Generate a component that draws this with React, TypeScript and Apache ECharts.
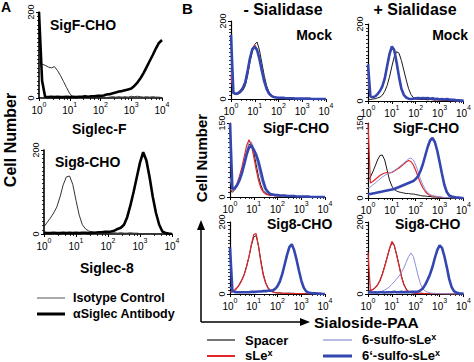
import React, { useEffect, useRef } from 'react';
import * as echarts from 'echarts';

// fluorescence channels (10^0 .. 10^4, 0.1-decade steps)
const channels = [1, 1.26, 1.58, 2, 2.51, 3.16, 3.98, 5.01, 6.31, 7.94, 10, 12.6, 15.8, 20, 25.1, 31.6, 39.8, 50.1, 63.1, 79.4, 100, 126, 158, 200, 251, 316, 398, 501, 631, 794, 1000, 1259, 1585, 1995, 2512, 3162, 3981, 5012, 6310, 7943, 10000];
const xTickLabels = ['0', '1', '2', '3', '4'];

// Panel A
const aSigFIsotype = [82,79,76,72,70,73,64,52,38,24, 10,3,2,1,2,1,2,1,2,1, 2,2,1,2,3,2,3,2,3,2, 4,3,4,3,2,3,2,3,2,2, 1];
const aSigFAntibody = [200,40,3,2,3,2,3,2,2,3, 2,3,2,3,3,4,3,4,4,5, 5,6,8,9,11,13,15,16,18,20, 22,28,36,46,58,72,86,100,115,128, 135];
const aSig8Isotype = [17,28,38,50,64,88,117,136,138,118, 80,45,22,12,7,5,4,3,3,2, 3,2,3,2,3,2,2,3,2,2, 1,1,1,0,0,0,0,0,0,0, 0];
const aSig8Antibody = [3,2,2,3,2,2,3,2,3,2, 3,2,3,3,2,3,3,4,4,5, 5,6,8,12,15,22,40,68,100,135, 170,195,175,135,88,50,22,6,2,1, 0];

// Panel B, Mock, - Sialidase
const mockMinusSpacer = [20,14,12,13,16,22,34,60,95,122, 140,146,125,92,60,34,18,10,6,4, 3,3,2,2,2,2,1,1,1,1, 1,1,0,0,0,0,0,0,0,0, 0];
const mockMinusSLex = [60,15,14,16,22,30,45,75,108,130, 138,128,105,75,46,26,14,8,5,4, 3,3,2,2,2,1,1,1,1,1, 1,0,0,0,0,0,0,0,0,0, 0];
const mockMinus6S = [80,14,13,15,21,29,43,72,105,128, 136,130,108,78,48,27,15,8,5,4, 3,2,2,2,2,1,1,1,1,1, 0,0,0,0,0,0,0,0,0,0, 0];
const mockMinus6pS = [165,16,13,15,20,28,42,72,105,128, 134,125,102,72,45,26,14,8,5,4, 3,3,3,2,2,2,2,1,1,1, 1,1,1,1,0,0,0,0,0,0, 0];
// Mock, + Sialidase
const mockPlusSpacer = [5,4,5,6,8,10,15,25,40,62, 90,115,128,124,105,80,55,32,17,9, 6,5,4,4,4,3,4,3,3,4, 3,3,2,2,2,2,1,1,1,0, 0];
const mockPlusSLex = [70,11,10,12,17,25,37,58,88,118, 138,130,98,60,31,16,9,6,5,5, 5,6,5,6,5,5,4,4,3,3, 3,2,2,2,1,1,1,0,0,0, 0];
const mockPlus6S = [50,10,10,12,17,26,38,60,92,122, 140,131,100,62,32,16,9,6,5,5, 5,5,5,5,5,4,4,4,3,3, 3,2,2,2,1,1,1,0,0,0, 0];
const mockPlus6pS = [95,12,10,12,18,26,38,58,90,122, 142,132,100,62,32,16,9,6,5,6, 7,8,7,8,7,8,6,7,5,6, 4,5,4,5,4,3,3,2,2,1, 1];
// SigF-CHO, - Sialidase
const sigFMinusSpacer = [12,10,14,22,34,50,70,92,106,108, 92,66,42,24,13,8,5,4,3,3, 2,2,2,2,1,1,1,1,1,1, 1,1,0,0,0,0,0,0,0,0, 0];
const sigFMinusSLex = [15,12,18,28,42,60,82,104,116,105, 82,56,34,18,10,6,4,3,3,2, 2,2,2,1,1,1,1,1,1,1, 0,0,0,0,0,0,0,0,0,0, 0];
const sigFMinus6S = [40,12,16,24,36,52,72,94,110,112, 98,78,58,38,22,12,7,5,4,3, 3,2,2,2,2,1,1,1,1,1, 1,0,0,0,0,0,0,0,0,0, 0];
const sigFMinus6pS = [150,16,18,24,34,48,66,86,100,104, 96,86,72,52,32,17,10,6,5,4, 4,3,3,3,2,2,2,2,1,1, 1,1,1,1,0,0,0,0,0,0, 0];
// SigF-CHO, + Sialidase
const sigFPlusSpacer = [35,42,52,64,76,85,86,76,56,36, 24,17,14,12,11,10,9,9,8,8, 7,6,5,4,4,3,3,2,2,2, 1,1,1,1,0,0,0,0,0,0, 0];
const sigFPlusSLex = [150,30,33,37,41,45,48,50,51,50, 51,54,57,60,64,68,72,75,73,66, 55,42,30,20,13,8,5,4,3,2, 2,1,1,1,1,0,0,0,0,0, 0];
const sigFPlus6S = [20,22,26,30,34,38,42,45,48,50, 52,55,58,62,66,70,74,78,80,76, 66,52,38,26,17,11,7,5,4,3, 2,2,1,1,1,0,0,0,0,0, 0];
const sigFPlus6pS = [8,8,9,10,11,12,13,14,15,16, 17,18,20,22,24,26,28,30,32,34, 38,44,54,68,85,102,115,120,112,95, 72,48,26,12,5,3,2,1,1,0, 0];
// Sig8-CHO, - Sialidase
const sig8MinusSpacer = [5,6,10,16,28,40,55,78,104,135, 158,162,135,92,56,32,18,10,6,4, 3,3,2,2,2,2,2,2,1,1, 1,1,1,0,0,0,0,0,0,0, 0];
const sig8MinusSLex = [6,7,12,18,26,38,54,76,103,138, 165,168,132,88,52,30,16,9,6,4, 3,3,2,2,2,2,1,1,1,1, 1,1,0,0,0,0,0,0,0,0, 0];
const sig8Minus6S = [20,7,6,6,5,5,5,5,5,6, 6,6,7,7,8,8,9,9,10,14, 21,34,54,80,106,128,135,120,94,64, 36,17,8,4,3,2,2,1,0,0, 0];
const sig8Minus6pS = [130,8,6,5,5,5,5,5,5,6, 6,6,7,7,8,8,9,9,10,14, 22,35,55,82,108,130,138,122,96,66, 38,18,8,4,3,2,2,1,1,0, 0];
// Sig8-CHO, + Sialidase
const sig8PlusSpacer = [8,9,12,18,26,38,56,78,102,125, 142,134,110,80,50,28,14,7,4,3, 2,2,2,2,1,1,1,1,1,1, 1,0,0,0,0,0,0,0,0,0, 0];
const sig8PlusSLex = [115,10,12,17,25,36,54,76,100,126, 146,136,108,78,48,26,13,7,4,3, 2,2,2,1,1,1,1,1,1,1, 0,0,0,0,0,0,0,0,0,0, 0];
const sig8Plus6S = [3,3,4,4,5,6,8,11,15,20, 27,34,42,50,60,72,88,104,114,104, 78,50,28,14,8,5,3,2,2,1, 1,1,1,0,0,0,0,0,0,0, 0];
const sig8Plus6pS = [5,5,4,5,4,5,5,4,5,5, 5,6,5,5,6,5,6,5,6,6, 6,7,10,16,26,40,55,75,100,122, 135,128,105,75,42,20,8,4,2,1, 1];

const FONT = '"Liberation Sans", Arial, Helvetica, sans-serif';

const ISO = { name: 'Isotype Control', color: '#333', width: 1 };
const AB = { name: 'αSiglec Antibody', color: '#000', width: 2.6 };
const SP = { name: 'Spacer', color: '#1a1a1a', width: 1 };
const SL = { name: 'sLeX', color: '#e3262a', width: 1.2 };
const S6 = { name: '6-sulfo-sLeX', color: '#8a90d4', width: 1 };
const S6P = { name: "6'-sulfo-sLeX", color: '#3446b0', width: 2.6 };

const panels = [
  { left: 39, top: 12, width: 123, height: 86, yMax: 200, axisW: 1.6, curves: [[ISO, aSigFIsotype], [AB, aSigFAntibody]] },
  { left: 44, top: 150, width: 128, height: 84, yMax: 200, axisW: 1.6, curves: [[ISO, aSig8Isotype], [AB, aSig8Antibody]] },
  { left: 231, top: 21, width: 95, height: 78, yMax: 200, axisW: 1.2, curves: [[SP, mockMinusSpacer], [SL, mockMinusSLex], [S6, mockMinus6S], [S6P, mockMinus6pS]] },
  { left: 368, top: 24, width: 97, height: 77, yMax: 200, axisW: 1.2, curves: [[S6, mockPlus6S], [SL, mockPlusSLex], [SP, mockPlusSpacer], [S6P, mockPlus6pS]] },
  { left: 230, top: 123, width: 95, height: 74, yMax: 150, axisW: 1.2, curves: [[SP, sigFMinusSpacer], [SL, sigFMinusSLex], [S6, sigFMinus6S], [S6P, sigFMinus6pS]] },
  { left: 368, top: 123, width: 97, height: 75, yMax: 150, axisW: 1.2, curves: [[SP, sigFPlusSpacer], [SL, sigFPlusSLex], [S6, sigFPlus6S], [S6P, sigFPlus6pS]] },
  { left: 230, top: 222, width: 95, height: 72, yMax: 200, axisW: 1.2, curves: [[SP, sig8MinusSpacer], [SL, sig8MinusSLex], [S6, sig8Minus6S], [S6P, sig8Minus6pS]] },
  { left: 368, top: 222, width: 97, height: 72, yMax: 200, axisW: 1.2, curves: [[SP, sig8PlusSpacer], [SL, sig8PlusSLex], [S6, sig8Plus6S], [S6P, sig8Plus6pS]] },
] as const;

function bold(size: number) {
  return `bold ${size}px ${FONT}`;
}

function txt(text: string, x: number, y: number, size: number, align = 'left', extra: any = {}) {
  return {
    type: 'text', x, y, ...extra,
    style: { text, font: bold(size), fill: '#000', textAlign: align, verticalAlign: 'middle' },
  };
}

function supTxt(base: string, sup: string, x: number, y: number, size: number) {
  return {
    type: 'text', x, y,
    style: {
      text: `{b|${base}}{s|${sup}}`,
      textAlign: 'left', verticalAlign: 'middle', fill: '#000',
      rich: {
        b: { font: bold(size), fill: '#000', lineHeight: size + 1, verticalAlign: 'bottom' },
        s: { font: bold(size - 4), fill: '#000', lineHeight: size - 4, verticalAlign: 'top' },
      },
    },
  };
}

function legendLine(x1: number, x2: number, y: number, color: string, width: number) {
  return { type: 'line', shape: { x1, y1: y, x2, y2: y }, style: { stroke: color, lineWidth: width } };
}

function buildOption() {
  const grid: any[] = [];
  const xAxis: any[] = [];
  const yAxis: any[] = [];
  const series: any[] = [];
  panels.forEach((p, i) => {
    grid.push({ left: p.left, top: p.top, width: p.width, height: p.height, containLabel: false });
    xAxis.push({
      gridIndex: i, type: 'log', logBase: 10, min: 1, max: 10000,
      axisLine: { lineStyle: { color: '#000', width: p.axisW } },
      axisTick: { show: true, length: 3, lineStyle: { color: '#000', width: 1 } },
      minorTick: { show: true, splitNumber: 5, length: 2, lineStyle: { color: '#000', width: 0.8 } },
      splitLine: { show: false },
      axisLabel: {
        margin: 3, hideOverlap: false, showMinLabel: true, showMaxLabel: true,
        formatter: (v: number) => `{b|10}{s|${xTickLabels[Math.round(Math.log10(v))]}}`,
        rich: {
          b: { fontSize: 10, fontFamily: FONT, color: '#000', lineHeight: 14, verticalAlign: 'bottom' },
          s: { fontSize: 7, fontFamily: FONT, color: '#000', lineHeight: 8, verticalAlign: 'top' },
        },
      },
    });
    yAxis.push({
      gridIndex: i, type: 'value', min: 0, max: p.yMax, interval: p.yMax,
      axisLine: { show: true, lineStyle: { color: '#000', width: p.axisW } },
      axisTick: { show: true, length: 3, lineStyle: { color: '#000', width: 1 } },
      minorTick: { show: true, splitNumber: p.yMax / 10, length: 2, lineStyle: { color: '#000', width: 0.8 } },
      splitLine: { show: false },
      axisLabel: {
        show: true, rotate: 90, fontSize: 9, fontFamily: FONT, color: '#000', margin: 4,
        showMinLabel: true, showMaxLabel: true, hideOverlap: false,
      },
    });
    p.curves.forEach(([style, values]: any) => {
      series.push({
        type: 'line', name: style.name, xAxisIndex: i, yAxisIndex: i,
        data: channels.map((c, k) => [c, values[k]]),
        symbol: 'none', showSymbol: false, clip: true,
        lineStyle: { color: style.color, width: style.width },
        itemStyle: { color: style.color },
      });
    });
  });

  const graphic: any[] = [
    txt('A', 1, 7, 14),
    txt('B', 182, 8, 15),
    txt('- Sialidase', 283, 9, 16, 'center'),
    txt('+ Sialidase', 415, 9, 16, 'center'),
    txt('Cell Number', 10, 140, 16, 'center', { rotation: Math.PI / 2 }),
    txt('Cell Number', 201, 158, 15, 'center', { rotation: Math.PI / 2 }),
    txt('SigF-CHO', 50, 25, 14),
    txt('Sig8-CHO', 55, 162, 14),
    txt('Siglec-F', 72, 129, 14),
    txt('Siglec-8', 80, 268, 14),
    txt('Mock', 332, 35, 14, 'right'),
    txt('Mock', 468, 35, 14, 'right'),
    txt('SigF-CHO', 263, 128, 14),
    txt('SigF-CHO', 393, 128, 14),
    txt('Sig8-CHO', 267, 224, 14),
    txt('Sig8-CHO', 395, 224, 14),
    // panel A legend
    legendLine(37, 65, 298, '#555', 1),
    legendLine(37, 65, 314, '#000', 3),
    txt('Isotype Control', 73, 298, 12.5),
    txt('αSiglec Antibody', 73, 314, 12.5),
    // axes arrows for B
    { type: 'line', shape: { x1: 201, y1: 322, x2: 201, y2: 228 }, style: { stroke: '#000', lineWidth: 1.5 } },
    { type: 'polygon', shape: { points: [[201, 220], [197, 230], [205, 230]] }, style: { fill: '#000' } },
    { type: 'line', shape: { x1: 201, y1: 322, x2: 302, y2: 322 }, style: { stroke: '#000', lineWidth: 1.5 } },
    { type: 'polygon', shape: { points: [[310, 322], [300, 318], [300, 326]] }, style: { fill: '#000' } },
    txt('Sialoside-PAA', 314, 322, 15.5),
    // panel B legend
    legendLine(207, 235, 340, SP.color, 1.2),
    legendLine(207, 235, 356, SL.color, 2),
    legendLine(323, 352, 340, S6.color, 1.2),
    legendLine(323, 352, 356, S6P.color, 3),
    txt('Spacer', 245, 340, 13),
    supTxt('sLe', 'x', 245, 355, 13),
    supTxt('6-sulfo-sLe', 'x', 362, 339, 13),
    supTxt('6‘-sulfo-sLe', 'x', 362, 355, 13),
  ];

  return { animation: false, backgroundColor: '#fff', grid, xAxis, yAxis, series, graphic };
}

export default function App() {
  const ref = useRef<HTMLDivElement>(null);
  useEffect(() => {
    document.body.style.margin = '0';
    const chart = echarts.init(ref.current!, null, { renderer: 'svg' });
    chart.setOption(buildOption() as any);
    return () => chart.dispose();
  }, []);
  return <div ref={ref} style={{ width: 474, height: 362 }} />;
}
